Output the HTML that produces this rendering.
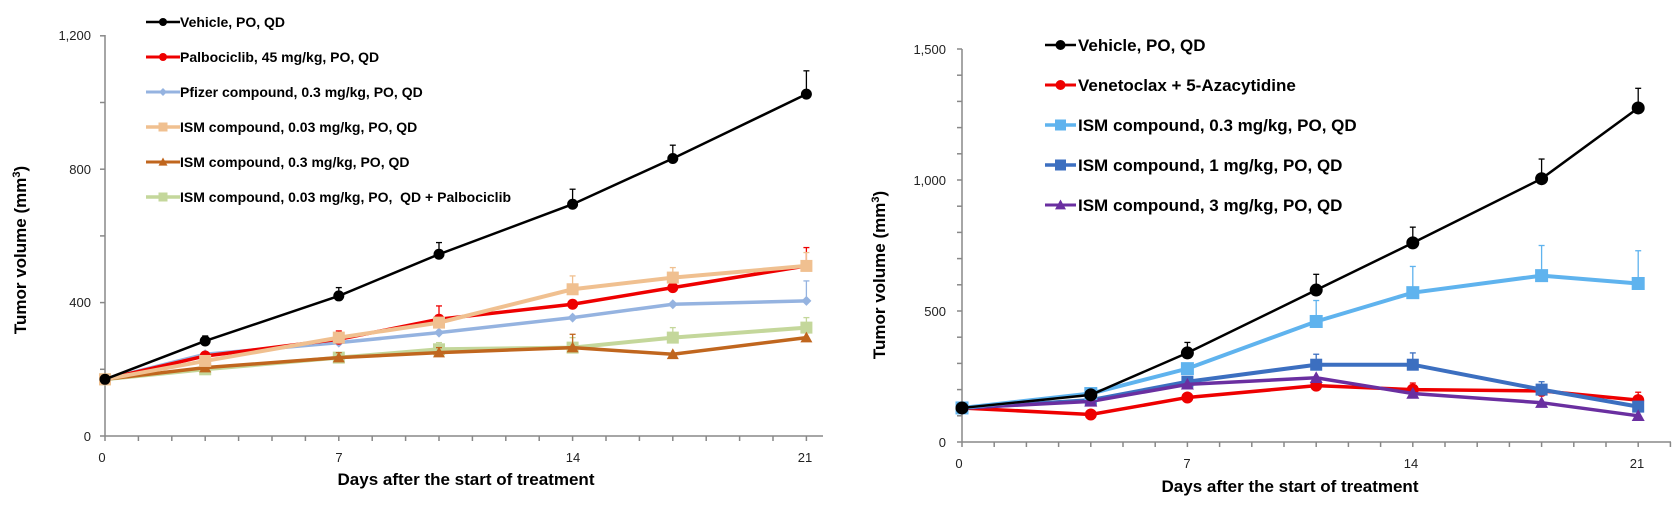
<!DOCTYPE html>
<html><head><meta charset="utf-8"><style>
html,body{margin:0;padding:0;background:#fff}
svg{display:block}
text{font-family:"Liberation Sans",Arial,sans-serif}
.tk{font-size:13px;fill:#222}
.lg{font-size:14px;font-weight:bold;fill:#000}
.lg2{font-size:17px;font-weight:bold;fill:#000}
.ax{font-size:17px;font-weight:bold;fill:#000}
</style></head><body>
<svg id="s" width="1680" height="505" viewBox="0 0 1680 505" xmlns="http://www.w3.org/2000/svg">
<g id="axes" stroke="#888" stroke-width="1.5" fill="none"></g>
<g id="series"></g>
<g class="tk" text-anchor="end">
<text x="91" y="441">0</text><text x="91" y="307">400</text><text x="91" y="174">800</text><text x="91" y="40">1,200</text>
</g>
<g class="tk" text-anchor="middle">
<text x="102" y="462">0</text><text x="339" y="462">7</text><text x="573" y="462">14</text><text x="805" y="462">21</text>
</g>
<text class="ax" text-anchor="middle" transform="translate(26,250) rotate(-90)">Tumor volume (mm<tspan dy="-6" font-size="11">3</tspan><tspan dy="6">)</tspan></text>
<text class="ax" x="466" y="485" text-anchor="middle">Days after the start of treatment</text>
<g class="tk" text-anchor="end">
<text x="946" y="447">0</text><text x="946" y="316">500</text><text x="946" y="185">1,000</text><text x="946" y="54">1,500</text>
</g>
<g class="tk" text-anchor="middle">
<text x="959" y="468">0</text><text x="1187" y="468">7</text><text x="1411" y="468">14</text><text x="1637" y="468">21</text>
</g>
<text class="ax" text-anchor="middle" transform="translate(885,275) rotate(-90)">Tumor volume (mm<tspan dy="-6" font-size="11">3</tspan><tspan dy="6">)</tspan></text>
<text class="ax" x="1290" y="492" text-anchor="middle">Days after the start of treatment</text>
<g class="lg">
<text x="180" y="27">Vehicle, PO, QD</text>
<text x="180" y="62">Palbociclib, 45 mg/kg, PO, QD</text>
<text x="180" y="97">Pfizer compound, 0.3 mg/kg, PO, QD</text>
<text x="180" y="132">ISM compound, 0.03 mg/kg, PO, QD</text>
<text x="180" y="167">ISM compound, 0.3 mg/kg, PO, QD</text>
<text x="180" y="202" xml:space="preserve">ISM compound, 0.03 mg/kg, PO,  QD + Palbociclib</text>
</g>
<g class="lg2">
<text x="1078" y="51">Vehicle, PO, QD</text>
<text x="1078" y="91">Venetoclax + 5-Azacytidine</text>
<text x="1078" y="131">ISM compound, 0.3 mg/kg, PO, QD</text>
<text x="1078" y="171">ISM compound, 1 mg/kg, PO, QD</text>
<text x="1078" y="211">ISM compound, 3 mg/kg, PO, QD</text>
</g>
</svg>
<script>
var NS="http://www.w3.org/2000/svg";
function el(p,t,a){var e=document.createElementNS(NS,t);for(var k in a)e.setAttribute(k,a[k]);p.appendChild(e);return e;}
var ax=document.getElementById('axes'),S=document.getElementById('series');
var L={x0:105,dx:33.4,y0:436,ky:0.3335};
el(ax,'line',{x1:105,y1:35,x2:105,y2:436});el(ax,'line',{x1:105,y1:436,x2:823,y2:436});
for(var v=0;v<=1200;v+=200){var y=L.y0-v*L.ky;el(ax,'line',{x1:100,y1:y,x2:105,y2:y});}
for(var d=0;d<=21;d++){var x=L.x0+d*L.dx;el(ax,'line',{x1:x,y1:436,x2:x,y2:441});}
var R={x0:962,dx:32.2,y0:442,ky:0.262};
el(ax,'line',{x1:962,y1:49,x2:962,y2:442});el(ax,'line',{x1:962,y1:442,x2:1671,y2:442});
for(var v=0;v<=1500;v+=100){var y=R.y0-v*R.ky;el(ax,'line',{x1:957,y1:y,x2:962,y2:y});}
for(var d=0;d<=22;d++){var x=R.x0+d*R.dx;el(ax,'line',{x1:x,y1:442,x2:x,y2:447});}
function marker(g,m,x,y,c,s){
 if(m=='o')el(g,'circle',{cx:x,cy:y,r:s,fill:c});
 else if(m=='s')el(g,'rect',{x:x-s,y:y-s,width:2*s,height:2*s,fill:c});
 else if(m=='d')el(g,'polygon',{points:(x)+','+(y-s)+' '+(x+s)+','+y+' '+x+','+(y+s)+' '+(x-s)+','+y,fill:c});
 else if(m=='t')el(g,'polygon',{points:x+','+(y-s)+' '+(x+s)+','+(y+s*0.8)+' '+(x-s)+','+(y+s*0.8),fill:c});
}
function series(A,days,vals,errs,c,m,s,w){
 var g=el(S,'g',{});var pts=[];
 for(var i=0;i<days.length;i++){var x=A.x0+days[i]*A.dx,y=A.y0-vals[i]*A.ky;pts.push(x+','+y);
  if(errs&&errs[i]){var ye=A.y0-(vals[i]+errs[i])*A.ky;el(g,'line',{x1:x,y1:y,x2:x,y2:ye,stroke:c,'stroke-width':1.3});el(g,'line',{x1:x-3,y1:ye,x2:x+3,y2:ye,stroke:c,'stroke-width':1.3});}}
 el(g,'polyline',{points:pts.join(' '),fill:'none',stroke:c,'stroke-width':w});
 for(var i=0;i<days.length;i++)marker(g,m,A.x0+days[i]*A.dx,A.y0-vals[i]*A.ky,c,s);
}
function leg(x1,x2,y,c,m,s,w){el(S,'line',{x1:x1,y1:y,x2:x2,y2:y,stroke:c,'stroke-width':w});marker(S,m,(x1+x2)/2,y,c,s);}
var dl=[0,3,7,10,14,17,21];
series(L,dl,[170,200,235,260,265,295,325],[0,10,0,20,30,30,30],'#c4d79b','s',6,4);
series(L,dl,[170,205,235,250,265,245,295],[0,0,15,15,40,0,0],'#c0661e','t',6,3.5);
series(L,dl,[170,245,280,310,355,395,405],[0,0,0,0,0,0,60],'#95b3e0','d',5,3.5);
series(L,dl,[170,240,290,350,395,445,510],[0,0,25,40,0,0,55],'#e00','o',5.5,3.5);
series(L,dl,[170,225,295,340,440,475,510],[0,0,0,0,40,30,40],'#f0c090','s',6,4);
series(L,dl,[170,285,420,545,695,832,1025],[0,15,25,35,45,40,70],'#000','o',5.5,2.5);
leg(146,180,22,'#000','o',4,2.5);leg(146,180,57,'#e00','o',4,3);leg(146,180,92,'#95b3e0','d',4,3);
leg(146,180,127,'#f0c090','s',4.5,3.5);leg(146,180,162,'#c0661e','t',4.5,3);leg(146,180,197,'#c4d79b','s',4.5,3.5);
var dr=[0,4,7,11,14,18,21];
series(R,dr,[130,105,170,215,200,195,160],[0,0,0,0,25,15,30],'#e00','o',6,3.5);
series(R,dr,[130,160,230,295,295,200,135],[0,0,0,40,45,30,0],'#3c6fc0','s',6,4);
series(R,dr,[130,155,220,245,185,150,100],[0,0,0,0,0,0,0],'#6a2fa0','t',6.5,3.5);
series(R,dr,[130,185,280,460,570,635,605],[0,0,0,80,100,115,125],'#5fb3ee','s',6.5,4);
series(R,dr,[130,180,340,580,760,1005,1275],[0,0,40,60,60,75,75],'#000','o',6.5,2.5);
leg(1045,1076,45,'#000','o',5,2.5);leg(1045,1076,85,'#e00','o',5,3);leg(1045,1076,125,'#5fb3ee','s',5.5,3.5);
leg(1045,1076,165,'#3c6fc0','s',5.5,3.5);leg(1045,1076,205,'#6a2fa0','t',5.5,3);
</script>
</body></html>
